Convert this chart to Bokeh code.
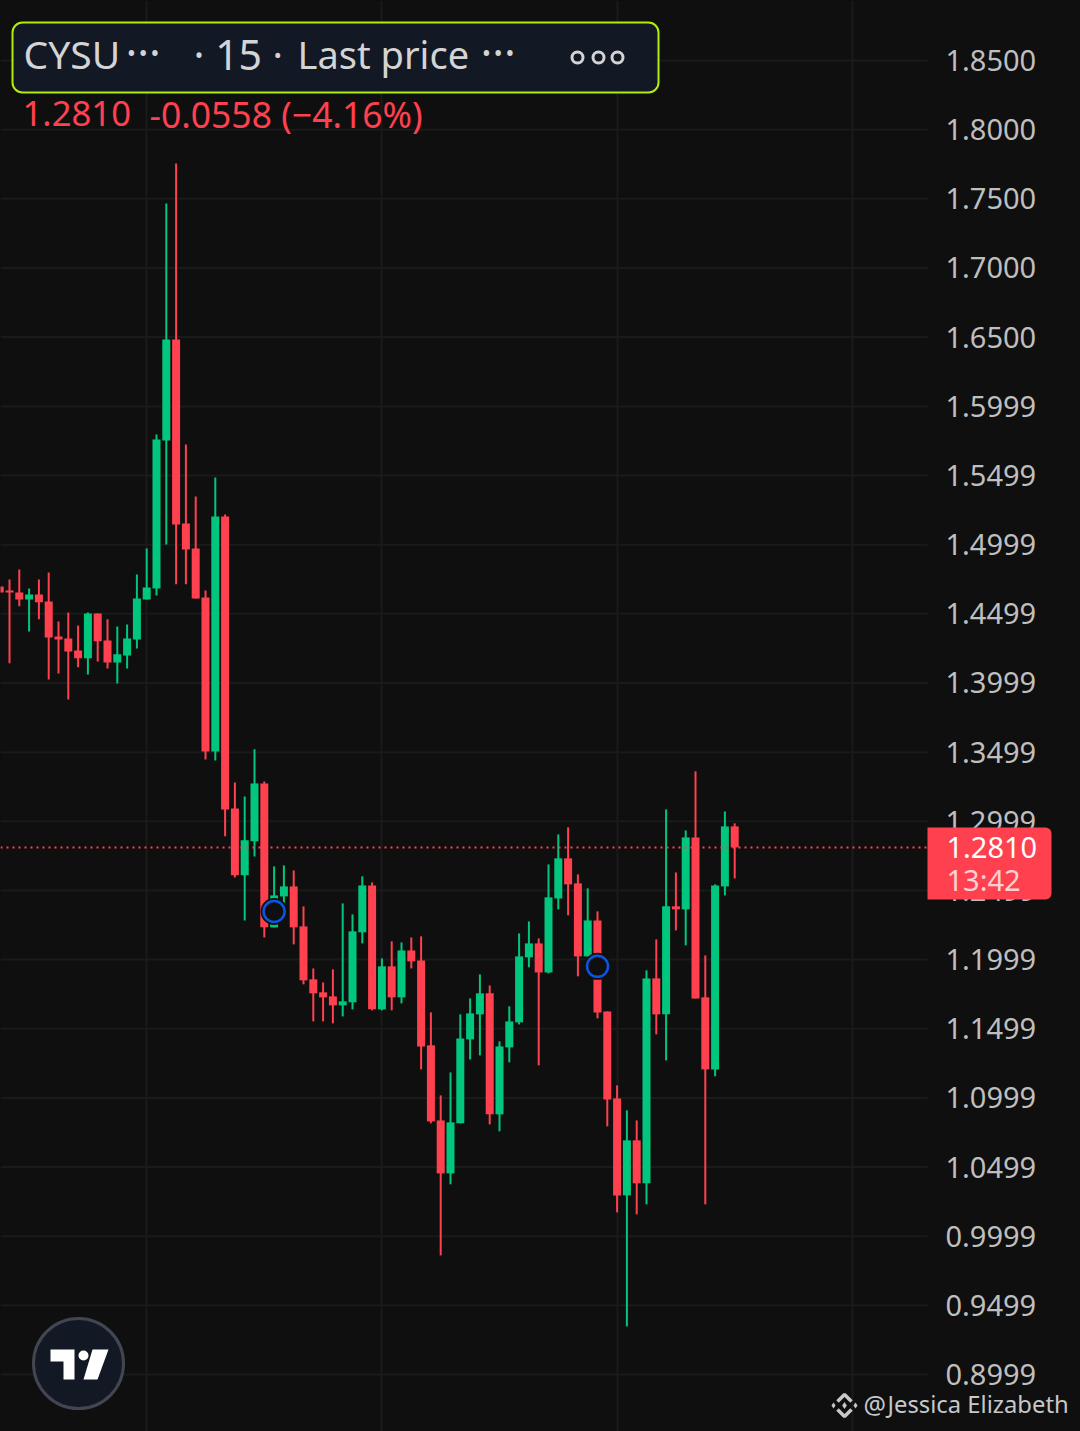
from bokeh.plotting import figure, ColumnDataSource
from bokeh.models import BoxAnnotation, Label, LinearAxis, FixedTicker
from bokeh.embed import file_html
from bokeh.resources import INLINE

opens = [1.4697,1.4668,1.4654,1.4603,1.4639,1.4589,1.4336,1.4321,1.4234,1.4177,1.4502,1.4307,1.4148,1.4198,1.4314,1.4603,
         1.4683,1.5753,1.6483,1.5153,1.4972,1.4618,1.3504,1.5203,1.3092,1.2608,1.2854,1.3273,1.2232,1.2456,1.2528,1.2239,
         1.1856,1.1762,1.1733,1.1668,1.1690,1.2196,1.2535,1.1639,1.1950,1.1726,1.2065,1.1993,1.1379,1.0836,1.0453,1.0815,
         1.1422,1.1603,1.1755,1.0880,1.1364,1.1545,1.2015,1.2116,1.1906,1.2441,1.2731,1.2550,1.2022,1.2282,1.1624,1.0995,
         1.0294,1.0692,1.0381,1.1863,1.1603,1.2384,1.2362,1.2882,1.1726,1.1205,1.2528,1.2962]
highs = [1.4697,1.4748,1.4820,1.4683,1.4748,1.4798,1.4444,1.4509,1.4415,1.4509,1.4502,1.4459,1.4408,1.4422,1.4784,1.4972,
         1.5796,1.7466,1.7756,1.5724,1.5348,1.4668,1.5485,1.5218,1.3280,1.3179,1.3519,1.3287,1.2673,1.2680,1.2644,1.2384,
         1.1935,1.1834,1.1928,1.2405,1.2326,1.2601,1.2557,1.2008,1.2131,1.2123,1.2159,1.2167,1.1617,1.1017,1.1183,1.1603,
         1.1718,1.1892,1.1812,1.1408,1.1661,1.2188,1.2275,1.2152,1.2687,1.2904,1.2955,1.2615,1.2514,1.2348,1.1624,1.1089,
         1.0909,1.0836,1.1921,1.2145,1.3085,1.2629,1.2933,1.3360,1.2029,1.2543,1.3070,1.2984]
lows = [1.4654,1.4141,1.4553,1.4372,1.4459,1.4025,1.4068,1.3880,1.4112,1.4061,1.4155,1.4104,1.3996,1.4104,1.4249,1.4603,
        1.4632,1.5001,1.4712,1.4712,1.4610,1.3446,1.3439,1.2890,1.2593,1.2282,1.2745,1.2159,1.2232,1.2405,1.2109,1.1820,
        1.1552,1.1552,1.1538,1.1588,1.1639,1.2116,1.1632,1.1632,1.1632,1.1682,1.1935,1.1205,1.0815,0.9860,1.0374,1.0815,
        1.1277,1.1306,1.0807,1.0757,1.1256,1.1530,1.1943,1.1234,1.1899,1.2362,1.2319,1.1878,1.2022,1.1574,1.0793,1.0171,
        0.9347,1.0157,1.0229,1.1458,1.1270,1.2210,1.2102,1.1718,1.0229,1.1155,1.2463,1.2586]
closes = [1.4654,1.4654,1.4603,1.4639,1.4582,1.4328,1.4314,1.4227,1.4177,1.4502,1.4300,1.4148,1.4206,1.4321,1.4610,1.4690,
          1.5760,1.6483,1.5145,1.4965,1.4610,1.3504,1.5203,1.3085,1.2608,1.2861,1.3273,1.2232,1.2463,1.2528,1.2232,1.1849,
          1.1755,1.1726,1.1668,1.1697,1.2203,1.2535,1.1639,1.1950,1.1726,1.2065,1.1986,1.1371,1.0829,1.0453,1.0822,1.1429,
          1.1610,1.1755,1.0880,1.1371,1.1552,1.2022,1.2116,1.1906,1.2449,1.2731,1.2543,1.2022,1.2282,1.1617,1.0988,1.0294,
          1.0692,1.0381,1.1863,1.1603,1.2384,1.2362,1.2882,1.1718,1.1205,1.2535,1.2962,1.2810]

tick_values = [1.85,1.80,1.75,1.70,1.65,1.5999,1.5499,1.4999,1.4499,1.3999,1.3499,1.2999,1.2499,1.1999,1.1499,1.0999,1.0499,0.9999,0.9499,0.8999]
tick_labels = ["1.8500","1.8000","1.7500","1.7000","1.6500","1.5999","1.5499","1.4999","1.4499","1.3999","1.3499","1.2999","1.2499","1.1999","1.1499","1.0999","1.0499","0.9999","0.9499","0.8999"]
time_grid = [15, 39, 63, 87]
signal_index = [28, 61]
signal_price = [1.2347, 1.1950]
last_price = 1.2810

BG, GREEN, RED = "#0f0f0f", "#00c77d", "#ff414f"
GRID, FONT = "#1a1a1a", "Noto Sans"
W, H, PANE_W = 1080, 1431, 927
Y_TOP, Y_BOT = 1.89338, 1.89338 - H / 1383.0
X_LEFT, X_RIGHT = 0.8 / 9.8, (W + 0.8) / 9.8

def px_x(x):
    return X_LEFT + x * (X_RIGHT - X_LEFT) / W

def px_y(y):
    return Y_TOP - y * (Y_TOP - Y_BOT) / H

p = figure(width=W, height=H, x_range=(X_LEFT, X_RIGHT), y_range=(Y_BOT, Y_TOP),
           output_backend="svg", toolbar_location=None, y_axis_location=None, x_axis_location=None,
           min_border_left=0, min_border_right=0, min_border_top=0, min_border_bottom=0,
           background_fill_color=BG, border_fill_color=BG, outline_line_color=None)

axis = LinearAxis(ticker=FixedTicker(ticks=tick_values), fixed_location=px_x(PANE_W),
                  major_label_overrides=dict(zip(tick_values, tick_labels)),
                  major_label_text_font=FONT, major_label_text_font_size="29px",
                  major_label_text_color="#bfbfbf", major_label_standoff=18,
                  major_tick_in=0, major_tick_out=0,
                  axis_line_color=None, major_tick_line_color=None, minor_tick_line_color=None)
p.add_layout(axis, "right")

p.ygrid.visible = False
p.xgrid.ticker = FixedTicker(ticks=time_grid)
p.xgrid.grid_line_color = GRID
p.xgrid.grid_line_width = 2
p.segment([X_LEFT] * len(tick_values), tick_values, [px_x(PANE_W)] * len(tick_values), tick_values,
          line_color=GRID, line_width=2)

idx = list(range(len(opens)))
src = ColumnDataSource(dict(
    x=idx, high=highs, low=lows,
    top=[max(o, c) for o, c in zip(opens, closes)],
    bottom=[min(o, c) for o, c in zip(opens, closes)],
    color=[GREEN if c >= o else RED for o, c in zip(opens, closes)],
))
p.segment("x", "high", "x", "low", color="color", line_width=2, source=src)
p.vbar("x", 8 / 9.8, "top", "bottom", fill_color="color", line_color=None, source=src)

p.segment([X_LEFT], [last_price], [px_x(PANE_W)], [last_price], line_color=RED, line_width=2, line_dash="2 4")

p.scatter(signal_index, signal_price, size=27, marker="circle", fill_color=BG, line_color=None)
p.scatter(signal_index, signal_price, size=21, marker="circle", fill_color=BG, line_color="#0b55e0", line_width=2.5)

# header pill
p.add_layout(BoxAnnotation(left=px_x(12), right=px_x(658), top=px_y(22), bottom=px_y(92),
                           fill_color="#131825", fill_alpha=1, line_color="#aef000", line_alpha=1, line_width=2,
                           border_radius=10, level="annotation"))

def text(t, x, y, size, color):
    p.add_layout(Label(x=px_x(x), y=px_y(y), text=t, text_font=FONT, text_font_size=f"{size}px",
                       text_color=color, text_align="left", text_baseline="middle", level="overlay"))

HEAD = "#d4d4d4"
text("CYSU", 23, 53, 39, HEAD)
text("\u00b7\u00b7\u00b7", 125, 51, 44, HEAD)
text("\u00b7 15", 193, 53, 41, HEAD)
text("\u00b7", 272, 53, 39, HEAD)
text("Last price", 297, 53, 38, HEAD)
text("\u00b7\u00b7\u00b7", 480, 51, 44, HEAD)
text("1.2810", 22, 113, 34.7, RED)
text("-0.0558 (\u22124.16%)", 149, 113, 35.5, RED)

dots = p.scatter([px_x(577), px_x(598), px_x(617)], [px_y(57)] * 3, size=11, marker="circle",
                 fill_color=None, line_color=HEAD, line_width=3)
dots.level = "overlay"

# last price badge
p.add_layout(BoxAnnotation(left=px_x(927), right=px_x(1051), top=px_y(827), bottom=px_y(899),
                           fill_color=RED, fill_alpha=1, line_color=None,
                           border_radius=(0, 6, 6, 0), level="overlay"))
text("1.2810", 946, 847, 29, "#ffffff")
text("13:42", 946, 879, 29, "#ffd0d4")

# logo
logo = p.scatter([px_x(78)], [px_y(1363)], size=90, marker="circle", fill_color="#131825",
                 line_color="#434651", line_width=3)
logo.level = "overlay"
shapes = p.patches(
    [[px_x(v) for v in (50, 74, 74, 63, 63, 50)], [px_x(v) for v in (92, 108, 97, 83)]],
    [[px_y(v) for v in (1349, 1349, 1379, 1379, 1361, 1361)], [px_y(v) for v in (1349, 1349, 1379, 1379)]],
    fill_color="#ffffff", line_color=None)
shapes.level = "overlay"
dot = p.scatter([px_x(83)], [px_y(1355)], size=10, marker="circle", fill_color="#ffffff", line_color=None)
dot.level = "overlay"

# watermark
GLYPH = "#c8c8c8"
d1 = p.scatter([px_x(844), px_x(833), px_x(855)], [px_y(1405)] * 3, size=[7, 6, 6], marker="diamond",
               fill_color=GLYPH, line_color=None)
d1.level = "overlay"
d2 = p.multi_line([[px_x(837), px_x(844), px_x(851)], [px_x(837), px_x(844), px_x(851)]],
                  [[px_y(1401), px_y(1394), px_y(1401)], [px_y(1409), px_y(1416), px_y(1409)]],
                  line_color=GLYPH, line_width=3.5)
d2.level = "overlay"
text("@", 863, 1403, 25, GLYPH)
text("Jessica Elizabeth", 887, 1403, 23.8, GLYPH)

html = file_html(p, INLINE).replace("<head>", "<head><style>html,body{margin:0;background:#0f0f0f}</style>", 1)
open("out.html", "w").write(html)
